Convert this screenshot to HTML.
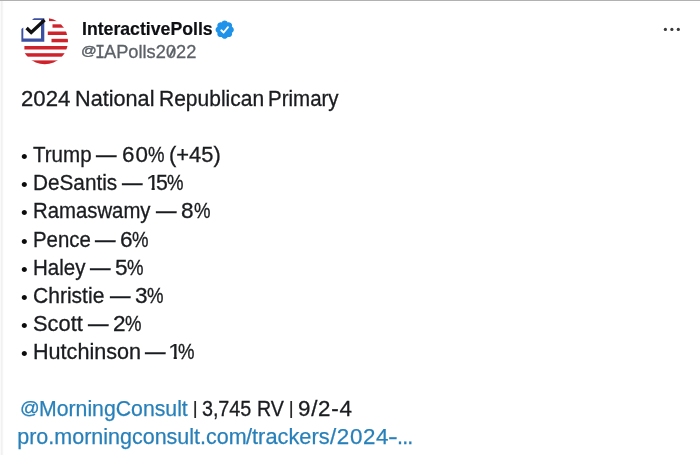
<!DOCTYPE html>
<html lang="en">
<head>
<meta charset="utf-8">
<title>InteractivePolls</title>
<style>
html,body{margin:0;padding:0;background:#fff;}
body{width:700px;height:455px;position:relative;overflow:hidden;font-family:"Liberation Sans",sans-serif;color:#16181a;}
.topline{position:absolute;left:0;top:0;width:700px;height:1px;background:#b1b1b1;}
.topline2{position:absolute;left:0;top:2px;width:700px;height:1px;background:#fdfdfd;}
.leftline{position:absolute;left:0;top:1px;width:4px;height:454px;background:linear-gradient(to right,#fafafa 0,#fafafa 1px,#f1f1f1 1px,#f1f1f1 2px,#f5f5f5 2px,#f5f5f5 3px,#fdfdfd 3px,#fdfdfd 4px);}
.avatar{position:absolute;left:21px;top:17px;width:48px;height:48px;}
.h{position:absolute;left:0;width:700px;height:22px;font-size:18px;line-height:22px;white-space:pre;}
.h span{position:absolute;top:0;left:0;transform-origin:0 50%;white-space:pre;}
.h .nm{font-weight:bold;color:#0d0f12;font-size:19px;-webkit-text-stroke:0.2px currentColor;}
.h .hd,.h .hm{color:#5c6167;font-size:18.5px;-webkit-text-stroke:0.3px currentColor;}
.sl{position:absolute;left:170.6px;top:46.6px;width:1.7px;height:10px;background:#5c6167;transform:rotate(27deg);border-radius:1px;}
.h .hat{color:#5c6167;font-size:13.4px;top:-1px;-webkit-text-stroke:0.4px currentColor;}
.h .hm{font-family:"DejaVu Sans Mono","Liberation Mono",monospace;font-size:17px;-webkit-text-stroke:0.3px currentColor;}
.badge{position:absolute;left:214.3px;top:18.5px;width:21.4px;height:21.4px;}
.more{position:absolute;left:663px;top:26.7px;width:18px;height:5px;}
.t{position:absolute;left:0;width:700px;height:28px;font-size:21.5px;line-height:28px;white-space:pre;color:#1a1c1f;}
.t span{position:absolute;top:0;left:0;transform-origin:0 50%;white-space:pre;-webkit-text-stroke:0.3px currentColor;}
.t .b{-webkit-text-stroke:0;color:#0c0c0d;}
.t .blue,.t .at{color:#2880ba;-webkit-text-stroke:0.25px currentColor;}
.t .one{clip-path:polygon(0 0,100% 0,100% 18.9px,7.7px 18.9px,7.7px 28px,4.9px 28px,4.9px 18.9px,0 18.9px);-webkit-text-stroke:0.15px currentColor;}
.t .pipe{font-size:18.8px;top:-1px;color:#222;-webkit-text-stroke:0.2px currentColor;}
.t .at{font-size:18px;top:-1px;}
</style>
</head>
<body>
<div class="topline"></div><div class="topline2"></div><div class="leftline"></div>
<svg class="avatar" viewBox="0 0 48 48">
  <defs><clipPath id="c"><circle cx="23.7" cy="24" r="23.3"/></clipPath></defs>
  <g clip-path="url(#c)">
    <g fill="#d0222b">
      <rect x="28" y="1.2" width="20" height="2.9"/>
      <rect x="31.5" y="7.3" width="17" height="3.4"/>
      <rect x="26.8" y="14.5" width="22" height="3.5"/>
      <rect x="30.5" y="21.8" width="18" height="3.5"/>
      <rect x="3.4" y="29" width="45" height="3.5"/>
      <rect x="0" y="36.2" width="48" height="3.5"/>
      <rect x="0" y="43.4" width="48" height="4.6"/>
    </g>
  </g>
  <path fill="#3c50a2" d="M0.4 12 L2.3 10.6 L2.3 21.4 L20 21.4 L20 3 L11 3 L13 1.2 L23.3 1.2 L23.3 24.7 L0.4 24.7 Z"/>
  <path d="M5.6 11 L10.2 15.5 L23.6 3" fill="none" stroke="#111" stroke-width="3.3"/>
</svg>
<div class="h" style="top:17.62px"><span class="nm" style="left:81.54px;transform:scaleX(0.9300);">InteractivePolls</span></div>
<div class="h" style="top:40.89px"><span class="hat" style="left:81.34px;transform:scaleX(1.1565);">@</span><span class="hm" style="left:95.21px;transform:scaleX(0.9926);">I</span><span class="hd" style="left:104.25px;transform:scaleX(0.9865);">APolls2022</span></div>
<i class="sl"></i>
<svg class="badge" viewBox="0 0 22 22"><path fill="#1f93e9" d="M20.396 11c-.018-.646-.215-1.275-.57-1.816-.354-.54-.852-.972-1.438-1.246.223-.607.27-1.264.14-1.897-.131-.634-.437-1.218-.882-1.687-.47-.445-1.053-.75-1.687-.882-.633-.13-1.290-.083-1.897.14-.273-.587-.704-1.086-1.245-1.44S11.647 1.62 11 1.604c-.646.017-1.273.213-1.813.568s-.969.854-1.240 1.440c-.608-.223-1.267-.272-1.902-.14-.635.13-1.220.436-1.690.882-.445.47-.749 1.055-.878 1.688-.13.633-.08 1.290.144 1.896-.587.274-1.087.705-1.443 1.245-.356.540-.555 1.170-.574 1.817.02.647.218 1.276.574 1.817.356.540.856.972 1.443 1.245-.224.606-.274 1.263-.144 1.896.13.634.433 1.218.877 1.688.47.443 1.054.747 1.687.878.633.132 1.290.084 1.897-.136.274.586.705 1.084 1.246 1.439.54.354 1.170.551 1.816.569.647-.016 1.276-.213 1.817-.567s.972-.854 1.245-1.440c.604.239 1.266.296 1.903.164.636-.132 1.220-.447 1.680-.907.460-.460.776-1.044.908-1.681s.075-1.299-.165-1.903c.586-.274 1.084-.705 1.439-1.246.354-.540.551-1.170.569-1.816z"/><path fill="none" stroke="#fff" stroke-width="1.9" stroke-linecap="round" stroke-linejoin="round" d="M7.5 11.6 L9.9 13.9 L14.4 8.4"/></svg>
<svg class="more" viewBox="0 0 18 5"><circle cx="2.4" cy="2.4" r="1.6" fill="#3a3a3a"/><circle cx="8.9" cy="2.4" r="1.6" fill="#3a3a3a"/><circle cx="15.3" cy="2.4" r="1.6" fill="#3a3a3a"/></svg>

<div class="t" style="top:85.15px"><span style="left:20.52px;transform:scaleX(1.0314);">2024 </span><span style="left:74.99px;transform:scaleX(1.0073);">National </span><span style="left:159.04px;transform:scaleX(0.9770);">Republican </span><span style="left:268.48px;transform:scaleX(0.9536);">Primary</span></div>
<div class="t" style="top:140.85px"><span class="b" style="left:21.04px;font-size:18.99px;top:2.4px">• </span><span style="left:33.07px;transform:scaleX(0.9550);">Trump </span><span style="left:96.15px;transform:scaleX(0.9535);">— </span><span style="left:121.51px;transform:scaleX(1.0400);letter-spacing:0.98px;">60</span><span style="left:147.60px;transform:scaleX(0.8629);">% </span><span style="left:168.88px;transform:scaleX(1.0176);">(+45)</span></div>
<div class="t" style="top:168.85px"><span class="b" style="left:21.04px;font-size:18.99px;top:2.4px">• </span><span style="left:32.66px;transform:scaleX(0.9652);">DeSantis </span><span style="left:121.75px;transform:scaleX(0.9535);">— </span><span class="one" style="left:145.56px;transform:scaleX(1.1390);">1</span><span style="left:155.76px;transform:scaleX(0.9900);">5</span><span style="left:167.20px;transform:scaleX(0.8629);">%</span></div>
<div class="t" style="top:196.85px"><span class="b" style="left:21.04px;font-size:18.99px;top:2.4px">• </span><span style="left:32.70px;transform:scaleX(0.9456);">Ramaswamy </span><span style="left:155.55px;transform:scaleX(0.9535);">— </span><span style="left:181.00px;transform:scaleX(1.0500);">8</span><span style="left:193.80px;transform:scaleX(0.8629);">%</span></div>
<div class="t" style="top:225.85px"><span class="b" style="left:21.04px;font-size:18.99px;top:2.4px">• </span><span style="left:32.69px;transform:scaleX(0.9494);">Pence </span><span style="left:94.85px;transform:scaleX(0.9535);">— </span><span style="left:119.55px;transform:scaleX(1.0500);">6</span><span style="left:132.20px;transform:scaleX(0.8629);">%</span></div>
<div class="t" style="top:253.85px"><span class="b" style="left:21.04px;font-size:18.99px;top:2.4px">• </span><span style="left:32.68px;transform:scaleX(0.9528);">Haley </span><span style="left:90.15px;transform:scaleX(0.9535);">— </span><span style="left:114.75px;transform:scaleX(1.0500);">5</span><span style="left:126.70px;transform:scaleX(0.8629);">%</span></div>
<div class="t" style="top:281.85px"><span class="b" style="left:21.04px;font-size:18.99px;top:2.4px">• </span><span style="left:33.17px;transform:scaleX(0.9789);">Christie </span><span style="left:109.55px;transform:scaleX(0.9535);">— </span><span style="left:134.63px;transform:scaleX(1.0500);">3</span><span style="left:146.80px;transform:scaleX(0.8629);">%</span></div>
<div class="t" style="top:309.85px"><span class="b" style="left:21.04px;font-size:18.99px;top:2.4px">• </span><span style="left:32.73px;transform:scaleX(1.0157);">Scott </span><span style="left:87.55px;transform:scaleX(0.9535);">— </span><span style="left:112.58px;transform:scaleX(1.0500);">2</span><span style="left:124.70px;transform:scaleX(0.8629);">%</span></div>
<div class="t" style="top:337.85px"><span class="b" style="left:21.04px;font-size:18.99px;top:2.4px">• </span><span style="left:32.59px;transform:scaleX(1.0038);">Hutchinson </span><span style="left:145.45px;transform:scaleX(0.9535);">— </span><span class="one" style="left:168.46px;transform:scaleX(1.1500);">1</span><span style="left:178.20px;transform:scaleX(0.8629);">%</span></div>
<div class="t" style="top:395.15px"><span class="at" style="left:20.04px;transform:scaleX(1.0754);">@</span><span class="blue" style="left:38.90px;transform:scaleX(0.9879);">MorningConsult </span><span class="pipe" style="left:192.69px;">| </span><span style="left:201.86px;transform:scaleX(0.9200);letter-spacing:-0.10px;">3,745 </span><span style="left:257.15px;transform:scaleX(0.9127);">RV </span><span class="pipe" style="left:288.69px;">| </span><span style="left:297.51px;transform:scaleX(1.0400);letter-spacing:0.70px;">9/2-4</span></div>
<div class="t" style="top:423.15px"><span class="blue" style="left:17.23px;">pro.morningconsult.com</span><span class="blue" style="left:245.93px;transform:scaleX(1.0147);">/trackers</span><span class="blue" style="left:329.52px;transform:scaleX(1.0400);letter-spacing:0.62px;">/2024</span><span class="blue" style="left:387.56px;transform:scaleX(1.3619);">-</span><span class="blue" style="left:397.12px;letter-spacing:-0.93px;">...</span></div>
</body>
</html>
